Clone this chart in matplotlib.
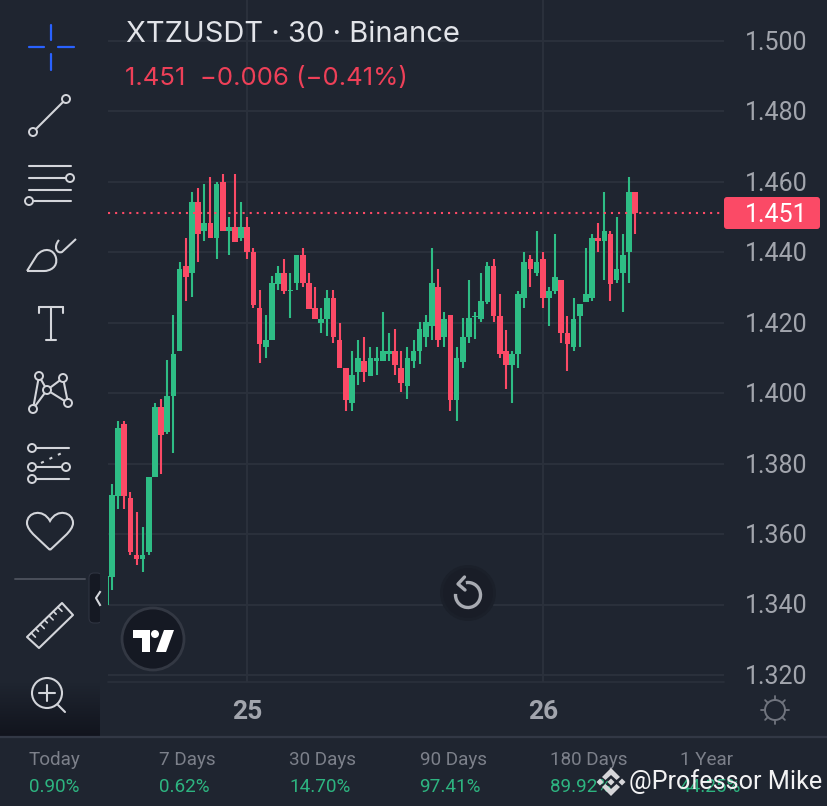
import numpy as np
from matplotlib import pyplot as plt
from matplotlib.patches import Circle, FancyBboxPatch, PathPatch, Polygon, Arc
from matplotlib.path import Path
from matplotlib.transforms import ScaledTranslation

plt.rcParams["font.family"] = ["Roboto", "DejaVu Sans"]

BG = "#1f2530"
GRID = "#2b313c"
GREEN = "#2ebd85"
RED = "#fb4a66"
TICK = "#a2a5ad"
ICON = "#d3d5da"
DARK = "#151923"

# one row per 30 min candle
opens = [1.3398, 1.3478, 1.3708, 1.3912, 1.3702, 1.3540, 1.3529, 1.3549, 1.3762, 1.3961,
         1.3890, 1.3992, 1.4120, 1.4361, 1.4341, 1.4543, 1.4460, 1.4483, 1.4441, 1.4600,
         1.4460, 1.4472, 1.4441, 1.4472, 1.4401, 1.4242, 1.4131, 1.4151, 1.4310, 1.4341,
         1.4290, 1.4313, 1.4392, 1.4313, 1.4242, 1.4199, 1.4210, 1.4270, 1.4151, 1.4071,
         1.3972, 1.4060, 1.4091, 1.4049, 1.4091, 1.4091, 1.4111, 1.4120, 1.4071, 1.4020,
         1.4091, 1.4120, 1.4159, 1.4191, 1.4301, 1.4159, 1.4222, 1.3980, 1.4088, 1.4159,
         1.4216, 1.4210, 1.4259, 1.4361, 1.4219, 1.4120, 1.4080, 1.4111, 1.4270, 1.4381,
         1.4341, 1.4381, 1.4270, 1.4290, 1.4321, 1.4171, 1.4131, 1.4219, 1.4259, 1.4270,
         1.4441, 1.4432, 1.4452, 1.4321, 1.4341, 1.4401, 1.4571]
closes = [1.3481, 1.3711, 1.3901, 1.3708, 1.3549, 1.3529, 1.3540, 1.3762, 1.3961, 1.3881,
          1.3992, 1.4111, 1.4352, 1.4330, 1.4543, 1.4452, 1.4483, 1.4441, 1.4594, 1.4460,
          1.4472, 1.4429, 1.4472, 1.4401, 1.4250, 1.4139, 1.4151, 1.4313, 1.4341, 1.4290,
          1.4293, 1.4392, 1.4313, 1.4239, 1.4210, 1.4210, 1.4270, 1.4159, 1.4071, 1.3980,
          1.4051, 1.4100, 1.4060, 1.4100, 1.4100, 1.4120, 1.4120, 1.4080, 1.4029, 1.4100,
          1.4120, 1.4182, 1.4202, 1.4313, 1.4151, 1.4210, 1.3980, 1.4100, 1.4159, 1.4213,
          1.4219, 1.4262, 1.4361, 1.4219, 1.4111, 1.4080, 1.4111, 1.4281, 1.4372, 1.4352,
          1.4372, 1.4270, 1.4290, 1.4330, 1.4171, 1.4139, 1.4210, 1.4253, 1.4281, 1.4441,
          1.4432, 1.4460, 1.4310, 1.4352, 1.4392, 1.4571, 1.4512]
highs = [1.3481, 1.3742, 1.3921, 1.3921, 1.3719, 1.3662, 1.3620, 1.3762, 1.3972, 1.3983,
         1.4094, 1.4222, 1.4372, 1.4441, 1.4571, 1.4583, 1.4594, 1.4614, 1.4600, 1.4622,
         1.4500, 1.4622, 1.4543, 1.4500, 1.4412, 1.4293, 1.4222, 1.4333, 1.4361, 1.4381,
         1.4341, 1.4392, 1.4412, 1.4341, 1.4301, 1.4242, 1.4293, 1.4293, 1.4199, 1.4071,
         1.4120, 1.4151, 1.4159, 1.4131, 1.4131, 1.4230, 1.4171, 1.4182, 1.4120, 1.4131,
         1.4151, 1.4202, 1.4222, 1.4412, 1.4352, 1.4230, 1.4222, 1.4131, 1.4213, 1.4321,
         1.4230, 1.4341, 1.4372, 1.4381, 1.4281, 1.4179, 1.4120, 1.4290, 1.4401, 1.4392,
         1.4460, 1.4401, 1.4301, 1.4452, 1.4321, 1.4219, 1.4270, 1.4253, 1.4412, 1.4452,
         1.4483, 1.4571, 1.4460, 1.4500, 1.4452, 1.4614, 1.4571]
lows = [1.3398, 1.3441, 1.3671, 1.3671, 1.3540, 1.3512, 1.3492, 1.3540, 1.3762, 1.3770,
        1.3884, 1.3830, 1.4120, 1.4262, 1.4273, 1.4372, 1.4432, 1.4441, 1.4381, 1.4460,
        1.4392, 1.4429, 1.4432, 1.4381, 1.4242, 1.4086, 1.4100, 1.4151, 1.4293, 1.4281,
        1.4213, 1.4293, 1.4301, 1.4239, 1.4210, 1.4171, 1.4162, 1.4142, 1.4071, 1.3949,
        1.3949, 1.4023, 1.4032, 1.4049, 1.4051, 1.4091, 1.4091, 1.4051, 1.4003, 1.3983,
        1.4071, 1.4083, 1.4131, 1.4151, 1.4131, 1.4131, 1.3949, 1.3921, 1.4071, 1.4142,
        1.4154, 1.4202, 1.4253, 1.4202, 1.4100, 1.4012, 1.3972, 1.4071, 1.4242, 1.4301,
        1.4333, 1.4242, 1.4191, 1.4281, 1.4142, 1.4063, 1.4120, 1.4131, 1.4259, 1.4262,
        1.4401, 1.4321, 1.4262, 1.4313, 1.4230, 1.4313, 1.4452]

price_ticks = [1.32, 1.34, 1.36, 1.38, 1.40, 1.42, 1.44, 1.46, 1.48, 1.50]
day_positions = [23, 71]
day_labels = ["25", "26"]
last_price = 1.451

period_names = ["Today", "7 Days", "30 Days", "90 Days", "180 Days", "1 Year"]
period_values = ["0.90%", "0.62%", "14.70%", "97.41%", "89.92%", "44.25%"]

fig = plt.figure(figsize=(8.28, 8.06), dpi=100, facecolor=BG)
W, H = 828.0, 806.0

# price panel
ax = fig.add_axes([108 / W, 1 - 682 / H, (724 - 108) / W, 682 / H], facecolor=BG)
ax.set_xlim(0.37, 100.44)
ax.set_ylim(1.3180, 1.5116)
for s in ax.spines.values():
    s.set_visible(False)
ax.set_yticks(price_ticks, [f"{p:.3f}" for p in price_ticks])
ax.set_xticks(day_positions, day_labels)
ax.yaxis.tick_right()
ax.tick_params(axis="y", length=0, pad=15, labelsize=18, labelcolor=TICK)
ax.tick_params(axis="x", length=0, pad=13, labelsize=19, labelcolor=TICK)
for t in ax.get_xticklabels():
    t.set_fontweight("bold")
# labels sit a little above their grid lines
up = ScaledTranslation(0, 0.4 / 72, fig.dpi_scale_trans)
for t in ax.get_yticklabels():
    t.set_transform(t.get_transform() + up)
ax.grid(True, color=GRID, lw=1.4)
ax.set_axisbelow(True)

o = np.array(opens)
c = np.array(closes)
x = np.arange(len(o))
colors = [GREEN if cc >= oo else RED for oo, cc in zip(o, c)]
ax.vlines(x, lows, highs, colors=colors, lw=1.5, zorder=2)
ax.bar(x, np.abs(c - o), bottom=np.minimum(o, c), width=0.92, color=colors, zorder=3)
ax.axhline(last_price, color=RED, lw=1.5, ls=(0, (1, 2.4)), zorder=4)

# everything that is chrome goes on a pixel overlay
ov = fig.add_axes([0, 0, 1, 1], facecolor="none", zorder=5)
ov.set_xlim(0, W)
ov.set_ylim(H, 0)
ov.axis("off")


def seg(x0, y0, x1, y1, col=ICON, lw=1.5, **kw):
    ov.plot([x0, x1], [y0, y1], color=col, lw=lw, solid_capstyle="round", **kw)


def ring(cx, cy, r=4, col=ICON, lw=1.4):
    ov.add_patch(Circle((cx, cy), r, fc=BG, ec=col, lw=lw, zorder=6))


def curve(verts, codes, fc="none", col=ICON, lw=1.5):
    ov.add_patch(PathPatch(Path(verts, codes), fc=fc, ec=col, lw=lw))


# header
ov.text(126, 35, "XTZUSDT · 30 · Binance", color="#e2e4e9", fontsize=21, va="center",
        family=["Inter", "DejaVu Sans"])
ov.text(125, 78, "1.451  −0.006 (−0.41%)", color="#ee4058", fontsize=18.5, va="center",
        family=["Inter", "DejaVu Sans"])

# last price tag
ov.add_patch(FancyBboxPatch((726, 199), 92, 28, boxstyle="round,pad=2,rounding_size=3", fc=RED, ec="none"))
ov.text(745, 214.5, f"{last_price:.3f}", color="white", fontsize=18, va="center")

# crosshair
blue = "#2962ff"
for a, b, d, e in [(29, 47, 44, 47), (58, 47, 74, 47), (51, 25, 51, 40), (51, 54, 51, 70)]:
    seg(a, b, d, e, col=blue, lw=1.6)

# trend line
seg(33, 132, 66, 99)
ring(33, 132)
ring(66, 99)

# fib lines
seg(29, 166, 71, 166)
seg(29, 178, 70, 178)
seg(29, 190, 71, 190)
seg(29, 201, 71, 201)
ring(70, 178)
ring(29, 201)

# brush
M, L, C4, Z = Path.MOVETO, Path.LINETO, Path.CURVE4, Path.CLOSEPOLY
curve([(27, 271), (37, 255), (44, 247), (54, 249), (56, 258), (58, 267), (50, 271), (44, 271), (27, 271)],
      [M, L, C4, C4, C4, C4, C4, C4, L])
curve([(76, 239), (62, 252), (57, 254), (53, 247), (59, 240)], [M, L, C4, C4, C4])

# text tool
seg(39, 313, 39, 307)
seg(39, 307, 63, 307)
seg(63, 307, 63, 313)
seg(51, 307, 51, 340)
seg(46, 340, 56, 340)

# nodes tool
pts = {"a": (39, 376), "b": (63, 378), "c": (47, 390), "d": (33, 409), "e": (68, 403)}
for p, q in ["ad", "ac", "cd", "cb", "be", "ce"]:
    seg(*pts[p], *pts[q])
for p in pts.values():
    ring(*p)

# forecast tool
seg(32, 448, 69, 448)
seg(32, 467, 66, 467)
seg(32, 479, 69, 479)
ov.plot([41, 66], [463, 451], color=ICON, lw=1.5, ls=(0, (1.5, 3)))
for p in [(32, 448), (32, 467), (66, 467), (32, 479)]:
    ring(*p)

# heart
curve([(50, 550), (40, 540), (27, 531), (27, 523), (27, 512), (43, 508), (50, 521),
       (57, 508), (73, 512), (73, 523), (73, 531), (60, 540), (50, 550)],
      [M, C4, C4, C4, C4, C4, C4, C4, C4, C4, C4, C4, C4])

seg(15, 579, 85, 579, col="#4b505b", lw=1.4)

# ruler
ov.add_patch(Polygon([(27, 637), (62, 603), (73, 615), (39, 648)], closed=True, fc="none", ec=ICON, lw=1.5, joinstyle="round"))
for f, ln in zip(np.linspace(0.12, 0.88, 7), [6, 4, 6, 4, 6, 4, 6]):
    bx, by = 27 + 35 * f, 637 - 34 * f
    seg(bx, by, bx + ln * 0.7, by + ln * 0.7, lw=1.2)

# zoom tool, sits on a darker corner
grad = np.linspace(0, 1, 40).reshape(-1, 1)
ov.imshow(grad, extent=(0, 100, 737, 682), cmap=plt.cm.colors.LinearSegmentedColormap.from_list("c", [BG, "#11141d"]),
          aspect="auto", zorder=0)
ov.set_xlim(0, W)
ov.set_ylim(H, 0)
ov.add_patch(Circle((47, 693), 15, fc="none", ec=ICON, lw=1.5))
seg(47, 685, 47, 701)
seg(39, 693, 55, 693)
seg(58, 705, 65, 712)

# collapse tab
ov.add_patch(FancyBboxPatch((91, 575), 9, 46, boxstyle="round,pad=2,rounding_size=5", fc=DARK, ec="#2f3441", lw=0.8))
ov.plot([100, 96, 100], [592, 598, 605], color=ICON, lw=1.5)
ov.add_patch(plt.Rectangle((100, 570), 8, 56, fc=BG, ec="none"))

# tradingview badge
ov.add_patch(Circle((153, 639), 31, fc=DARK, ec="#333843", lw=2))
ov.add_patch(Polygon([(133, 630), (150, 630), (150, 652), (142, 652), (142, 638), (133, 638)], closed=True, fc="white", ec="none"))
ov.add_patch(Circle((155, 634), 4, fc="white", ec="none"))
ov.add_patch(Polygon([(164, 630), (174, 630), (166, 652), (156, 652)], closed=True, fc="white", ec="none"))

# reset button
ov.add_patch(Circle((468, 593), 28, fc="#1b202a", ec="none"))
ov.add_patch(Circle((468, 593), 25, fc="#191d27", ec="none"))
ov.add_patch(Arc((468, 595), 25, 25, theta1=-100, theta2=185, color="#a8abb2", lw=2.4))
ov.plot([464.5, 458, 465], [577, 584, 590], color="#a8abb2", lw=2.4, solid_capstyle="round")

# settings gear
ov.add_patch(Circle((775, 710), 10, fc="none", ec="#70747e", lw=1.4))
for ang in np.arange(0, 360, 45):
    ca, sa = np.cos(np.radians(ang)), np.sin(np.radians(ang))
    seg(775 + 10 * ca, 710 + 10 * sa, 775 + 14 * ca, 710 + 14 * sa, col="#70747e", lw=1.3)

# bottom strip
seg(0, 737, W, 737, col="#323845", lw=1.6)
seg(108, 682, 724, 682, col=GRID, lw=1.2)
for i, (name, val) in enumerate(zip(period_names, period_values)):
    px = 29 + 130.2 * i
    ov.text(px, 760, name, color="#7c808a", fontsize=13.6, va="center")
    ov.text(px, 787, val, color=GREEN, fontsize=13.6, va="center", alpha=0.95)

# watermark, the logo is two chevrons and three small diamonds
logo = "#d6d6d9"
top = [(611, 768), (620, 777), (616.5, 780), (611, 775), (605.5, 780), (602, 777)]
ov.add_patch(Polygon(top, closed=True, fc=logo, ec="none", zorder=7))
ov.add_patch(Polygon([(a, 1564 - b) for a, b in top], closed=True, fc=logo, ec="none", zorder=7))
for cx in [600, 611, 622]:
    ov.add_patch(Polygon([(cx - 3.5, 782), (cx, 778.5), (cx + 3.5, 782), (cx, 785.5)], closed=True, fc=logo, ec="none", zorder=7))
ov.text(629, 782, "@Professor Mike", color="#f2f2f3", fontsize=18.2, va="center", zorder=7)

fig.savefig("out.png", dpi=100, facecolor=BG)
